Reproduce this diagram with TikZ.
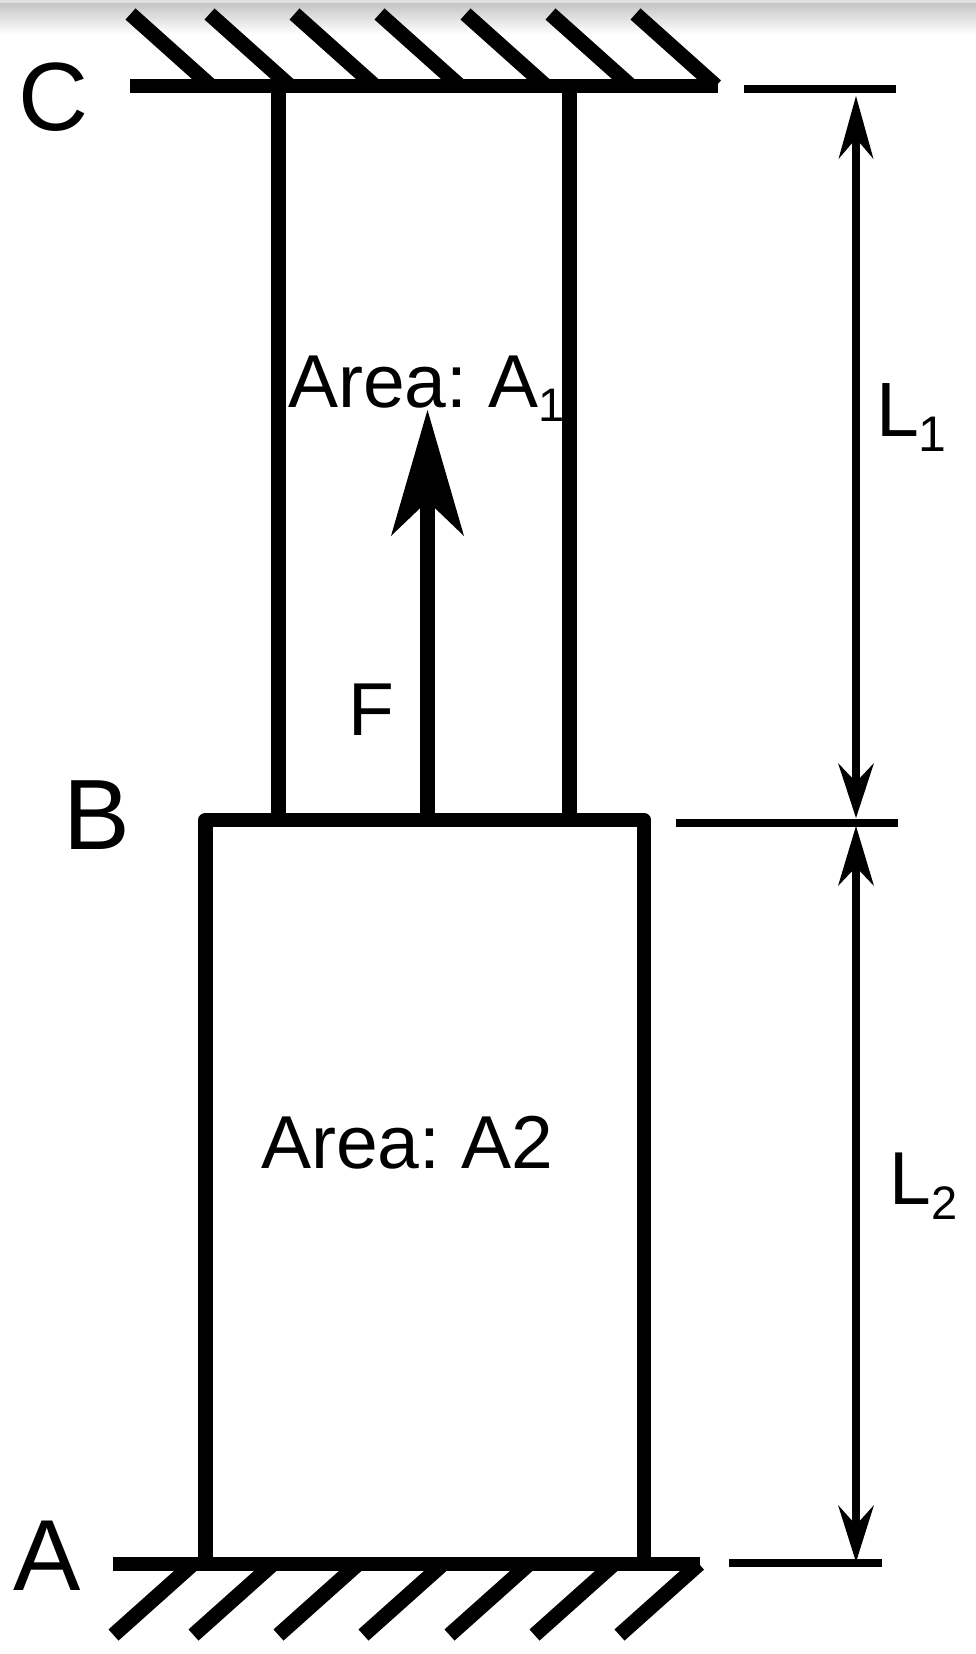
\documentclass[tikz,border=0pt]{standalone}
\usepackage{fontspec}
\setmainfont{Liberation Sans}
\newcommand{\fs}[1]{\fontsize{#1}{#1}\selectfont}
\tikzset{
  x=1pt,y=-1pt,
  heavy/.style={line width=14.5pt,line cap=butt,black},
  hatchline/.style={line width=15pt,line cap=butt,black},
  dimline/.style={line width=8pt,black},
  label/.style={inner sep=0pt,outer sep=0pt,anchor=base west,font=\frenchspacing},
}
\begin{document}
\begin{tikzpicture}
\useasboundingbox (0,0) rectangle (976,1654);
\shade[top color=black!25,bottom color=white] (0,0) rectangle (976,34);
\fill[black!12] (0,0) rectangle (976,3);
% top support
\coordinate (c1) at (130,86);
\coordinate (c2) at (718,86);
\draw[heavy] (c1) -- (c2);
\foreach \o in {0,79,164,249,335,420,505}
  \draw[hatchline] (130.5+\o,14) -- (211+\o,86);
% bottom support
\coordinate (a1) at (113,1564);
\coordinate (a2) at (700,1564);
\draw[heavy] (a1) -- (a2);
\foreach \o in {0,80,165,250,336,421,506}
  \draw[hatchline] (113.5+\o,1635) -- (193+\o,1564);
% upper columns
\coordinate (b1) at (278.5,820);
\coordinate (b2) at (569.5,820);
\draw[heavy] (278.5,86) -- (b1);
\draw[heavy] (569.5,86) -- (b2);
% lower rectangle
\draw[heavy,line join=round] (205.5,1564) -- (205.5,820) -- (644,820) -- (644,1564);
% force
\coordinate (f0) at (427.5,820);
\coordinate (f1) at (427.5,490);
\draw[heavy] (f0) -- (f1);
\fill (427.5,410) -- (464,536) -- (427.5,501) -- (391,536) -- cycle;
% dimension lines
\coordinate (dt) at (856,89);
\coordinate (dm) at (856,823);
\coordinate (db) at (856,1563);
\draw[dimline] (744,89) -- (896,89);
\draw[dimline] (676,823) -- (898,823);
\draw[dimline] (729,1563) -- (882,1563);
\draw[line width=7.5pt] (856,130) -- (856,790);
\draw[line width=7.5pt] (856,860) -- (856,1533);
\fill (856,96) -- (873.5,159) -- (856,138.5) -- (838.5,159) -- cycle;
\fill (856,818) -- (874,763) -- (856,782) -- (838,763) -- cycle;
\fill (856,826) -- (874,886) -- (856,867) -- (838,886) -- cycle;
\fill (856,1562) -- (874,1505) -- (856,1525) -- (838,1505) -- cycle;
% labels
\node[label] (lc) at (18,130) {\fs{97}C};
\node[label] (lb) at (63,849) {\fs{100}B};
\node[label] (la) at (13,1590) {\fs{101}A};
\node[label] (lf) at (348,735) {\fs{75}F};
\node[label] (la1) at (288,407) {\fs{75}Area: A\raisebox{-14pt}{\fs{47}1}};
\node[label] (la2) at (261,1168) {\fs{75}Area: A2};
\node[label] (l1) at (876,436) {\fs{77}L\raisebox{-15pt}{\fs{50}1}};
\node[label] (l2) at (889.5,1204) {\fs{75}L\raisebox{-15pt}{\fs{47}2}};
\end{tikzpicture}
\end{document}
